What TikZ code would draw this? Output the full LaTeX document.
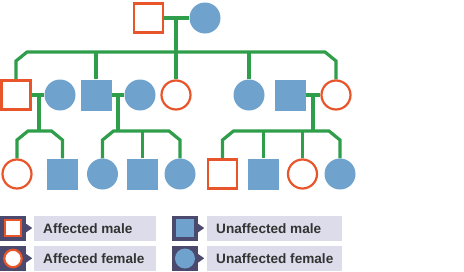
\documentclass[tikz,border=0pt]{standalone}
\usepackage{fontspec}
\setmainfont{Liberation Sans}
\usetikzlibrary{calc}
\pgfdeclarelayer{background}
\pgfsetlayers{background,main}
\definecolor{affc}{HTML}{E9552B}
\definecolor{unfc}{HTML}{6FA3CD}
\definecolor{linkc}{HTML}{2F9E4A}
\definecolor{darkc}{HTML}{4B4A6E}
\definecolor{legbg}{HTML}{DCDCEA}
\definecolor{txtc}{HTML}{333333}
\tikzset{
  amale/.style={rectangle, draw=affc, line width=2.2pt, fill=white, minimum size=29pt, inner sep=0pt},
  afemale/.style={circle, draw=affc, line width=2.2pt, fill=white, minimum size=29pt, inner sep=0pt},
  umale/.style={rectangle, fill=unfc, minimum size=31pt, inner sep=0pt},
  ufemale/.style={circle, fill=unfc, minimum size=31pt, inner sep=0pt},
  link/.style={draw=linkc, line width=3.2pt},
  darkbox/.style={rectangle, fill=darkc, minimum width=26pt, minimum height=25.5pt, inner sep=0pt},
  legbox/.style={rectangle, fill=legbg, minimum height=25.5pt, inner sep=0pt, anchor=west},
  legtext/.style={anchor=west, inner sep=0pt, text=txtc, font=\fontsize{13.6}{15}\selectfont\bfseries},
  lgamale/.style={rectangle, draw=affc, line width=2.2pt, fill=white, minimum size=16pt, inner sep=0pt},
  lgafemale/.style={circle, draw=affc, line width=2.2pt, fill=white, minimum size=17.5pt, inner sep=0pt},
  lgumale/.style={rectangle, fill=unfc, minimum size=18pt, inner sep=0pt},
  lgufemale/.style={circle, fill=unfc, minimum size=20pt, inner sep=0pt},
}
\newcommand\sibline[3]{%
  \draw[link] (#1.north) -- ([yshift=-9pt]#1.north |- #3) -- ([xshift=11pt]#1.north |- #3)
    -- ([xshift=-11pt]#2.north |- #3) -- ([yshift=-9pt]#2.north |- #3) -- (#2.north);}
\begin{document}
\begin{tikzpicture}[x=1pt,y=-1pt]
\useasboundingbox (0,0) rectangle (464,271);
% generation 1
\node[amale] (gf) at (148.5,18) {};
\node[ufemale] (gm) at (205,18) {};
% generation 2
\node[amale] (a1) at (16,95) {};
\node[ufemale] (a1w) at (60,95) {};
\node[umale] (a2) at (96,95) {};
\node[ufemale] (a2w) at (140,95) {};
\node[afemale] (a3) at (176,95) {};
\node[ufemale] (a4) at (249,95) {};
\node[umale] (a5h) at (290.5,95) {};
\node[afemale] (a5) at (336,95) {};
% generation 3
\node[afemale] (c1) at (17,174) {};
\node[umale] (c2) at (62.5,174) {};
\node[ufemale] (c3) at (102.5,174) {};
\node[umale] (c4) at (142.5,174) {};
\node[ufemale] (c5) at (180,174) {};
\node[amale] (c6) at (222.5,174) {};
\node[umale] (c7) at (263.5,174) {};
\node[afemale] (c8) at (302.5,174) {};
\node[ufemale] (c9) at (340,174) {};
% helper coordinates
\coordinate (m0) at (176,18);
\coordinate (s0) at (176,52);
\coordinate (m1) at (39,95);
\coordinate (s1) at (39,131);
\coordinate (m2) at (118,95);
\coordinate (s2) at (118,131);
\coordinate (m3) at (313,95);
\coordinate (s3) at (313,131);
\begin{pgfonlayer}{background}
\draw[link] (gf.east) -- (gm.west);
\draw[link] (m0) -- (a3.north);
\sibline{a1}{a5}{s0}
\draw[link] (a2.north) -- (a2.north |- s0);
\draw[link] (a4.north) -- (a4.north |- s0);
\draw[link] (a1.east) -- (a1w.west);
\draw[link] (a2.east) -- (a2w.west);
\draw[link] (a5h.east) -- (a5.west);
\draw[link] (m1) -- (s1);
\draw[link] (m2) -- (s2);
\draw[link] (m3) -- (s3);
\sibline{c1}{c2}{s1}
\sibline{c3}{c5}{s2}
\draw[link] (c4.north) -- (c4.north |- s2);
\sibline{c6}{c9}{s3}
\draw[link] (c7.north) -- (c7.north |- s3);
\draw[link] (c8.north) -- (c8.north |- s3);
\end{pgfonlayer}
% legend
\node[darkbox] (k1) at (13,228.25) {};
\node[darkbox] (k2) at (13,258.5) {};
\node[darkbox] (k3) at (185,228.25) {};
\node[darkbox] (k4) at (185,258.5) {};
\foreach \k in {k1,k2,k3,k4}{
  \fill[darkc] (\k.north east) ++(0,8.5) -- ++(6,4.25) -- ++(-6,4.25) -- cycle;
}
\node[lgamale] at (k1) {};
\node[lgafemale] at (k2) {};
\node[lgumale] at (k3) {};
\node[lgufemale] at (k4) {};
\node[legbox, minimum width=122pt] (b1) at (34,228.25) {};
\node[legbox, minimum width=122pt] (b2) at (34,258.5) {};
\node[legbox, minimum width=135.5pt] (b3) at (206.5,228.25) {};
\node[legbox, minimum width=135.5pt] (b4) at (206.5,258.5) {};
\node[legtext] (t1) at ([xshift=9pt]b1.west) {Affected male};
\node[legtext] (t2) at ([xshift=9pt]b2.west) {Affected female};
\node[legtext] (t3) at ([xshift=9.5pt]b3.west) {Unaffected male};
\node[legtext] (t4) at ([xshift=9.5pt]b4.west) {Unaffected female};
\end{tikzpicture}
\end{document}
